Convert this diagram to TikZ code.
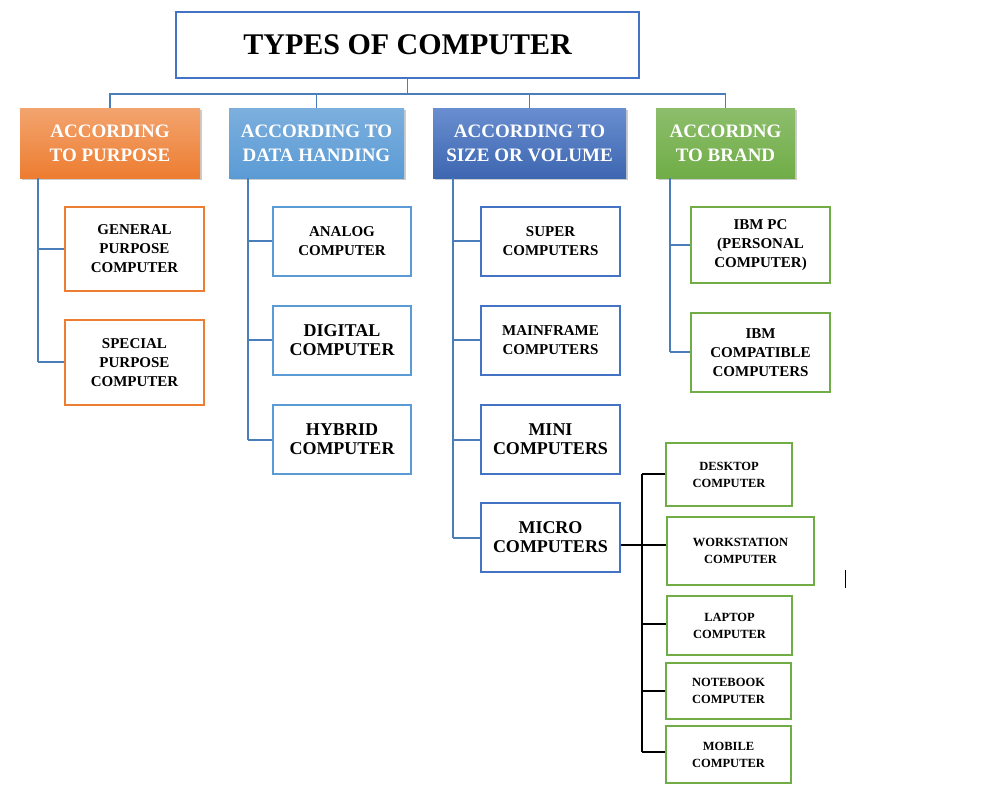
\documentclass[tikz,border=0pt]{standalone}
\usepackage{fontspec}
\setmainfont{Liberation Serif}
\usetikzlibrary{shadows}
\definecolor{cor}{HTML}{ED7D31}
\definecolor{clb}{HTML}{5B9BD5}
\definecolor{cbl}{HTML}{4472C4}
\definecolor{cgr}{HTML}{70AD47}
\definecolor{cln}{HTML}{4A7EBB}
\begin{document}
\begin{tikzpicture}[x=1pt,y=-1pt,
 hdr/.style={draw=none,text=white,font=\bfseries\fontsize{19}{24}\selectfont,align=center,inner sep=0pt,drop shadow={shadow xshift=2pt,shadow yshift=-2pt,opacity=0.4}},
 lf/.style={draw=#1,line width=1.5pt,fill=white,align=center,inner sep=0pt,font=\bfseries\fontsize{15}{19}\selectfont},
 sm/.style={draw=cgr,line width=1.5pt,fill=white,align=center,inner sep=0pt,font=\bfseries\fontsize{12.5}{17}\selectfont},
 ln/.style={draw=cln,line width=1.5pt},
 bk/.style={draw=black,line width=1.5pt}]
\useasboundingbox (0,0) rectangle (988,796);
\newcommand{\bx}[6]{\node[#1,minimum width=#4-#2,minimum height=#5-#3] (#6) at ({(#2+#4)/2},{(#3+#5)/2})}
\bx{lf=cbl}{176}{12}{639}{78}{t} {\fontsize{30}{34}\selectfont TYPES OF COMPUTER};
\bx{hdr,top color=cor!70,bottom color=cor}{20}{108}{200}{178}{h1} {ACCORDING\\TO PURPOSE};
\bx{hdr,top color=clb!80,bottom color=clb}{229}{108}{404}{178}{h2} {ACCORDING TO\\DATA HANDING};
\bx{hdr,top color=cbl!80,bottom color=cbl!90!black}{433}{108}{626}{178}{h3} {ACCORDING TO\\SIZE OR VOLUME};
\bx{hdr,top color=cgr!80,bottom color=cgr}{656}{108}{795}{178}{h4} {ACCORDNG\\TO BRAND};
\bx{lf=cor}{65}{207}{204}{291}{a1} {GENERAL\\PURPOSE\\COMPUTER};
\bx{lf=cor}{65}{320}{204}{405}{a2} {SPECIAL\\PURPOSE\\COMPUTER};
\bx{lf=clb}{273}{207}{411}{276}{b1} {ANALOG\\COMPUTER};
\bx{lf=clb}{273}{306}{411}{375}{b2} {\fontsize{18}{23}\selectfont DIGITAL\\\fontsize{18}{23}\selectfont COMPUTER};
\bx{lf=clb}{273}{405}{411}{474}{b3} {\fontsize{18}{23}\selectfont HYBRID\\\fontsize{18}{23}\selectfont COMPUTER};
\bx{lf=cbl}{481}{207}{620}{276}{c1} {SUPER\\COMPUTERS};
\bx{lf=cbl}{481}{306}{620}{375}{c2} {MAINFRAME\\COMPUTERS};
\bx{lf=cbl}{481}{405}{620}{474}{c3} {\fontsize{18}{23}\selectfont MINI\\\fontsize{18}{23}\selectfont COMPUTERS};
\bx{lf=cbl}{481}{503}{620}{572}{c4} {\fontsize{18}{23}\selectfont MICRO\\\fontsize{18}{23}\selectfont COMPUTERS};
\bx{lf=cgr}{691}{207}{830}{283}{d1} {IBM PC\\(PERSONAL\\COMPUTER)};
\bx{lf=cgr}{691}{313}{830}{392}{d2} {IBM\\COMPATIBLE\\COMPUTERS};
\bx{sm}{666}{443}{792}{506}{e1} {DESKTOP\\COMPUTER};
\bx{sm}{667}{517}{814}{585}{e2} {WORKSTATION\\COMPUTER};
\bx{sm}{667}{596}{792}{655}{e3} {LAPTOP\\COMPUTER};
\bx{sm}{666}{663}{791}{719}{e4} {NOTEBOOK\\COMPUTER};
\bx{sm}{666}{726}{791}{783}{e5} {MOBILE\\COMPUTER};
\coordinate (j0) at (407.5,94);
\coordinate (j1) at (110,94);
\coordinate (j2) at (316.5,94);
\coordinate (j3) at (529.5,94);
\coordinate (j4) at (725.5,94);
\draw[ln] (t.south) -- (j0);
\draw[ln] (h1.north) -- (j1) -- (j4) -- (h4.north);
\draw[ln] (h2.north) -- (j2);
\draw[ln] (h3.north) -- (j3);
\draw[ln] (38,178) -- (38,362);
\draw[ln] (38,249) -- (a1.west |- 0,249); \draw[ln] (38,362) -- (a2.west |- 0,362);
\draw[ln] (248,178) -- (248,440);
\draw[ln] (248,241) -- (b1.west |- 0,241); \draw[ln] (248,340) -- (b2.west |- 0,340); \draw[ln] (248,440) -- (b3.west |- 0,440);
\draw[ln] (453,178) -- (453,538);
\draw[ln] (453,241) -- (c1.west |- 0,241); \draw[ln] (453,340) -- (c2.west |- 0,340); \draw[ln] (453,440) -- (c3.west |- 0,440); \draw[ln] (453,538) -- (c4.west |- 0,538);
\draw[ln] (670,178) -- (670,352);
\draw[ln] (670,245) -- (d1.west |- 0,245); \draw[ln] (670,352) -- (d2.west |- 0,352);
\draw[bk] (c4.east |- 0,545) -- (e2.west |- 0,545);
\draw[bk] (642,474) -- (642,752);
\draw[bk] (642,474) -- (e1.west |- 0,474);
\draw[bk] (642,624) -- (e3.west |- 0,624); \draw[bk] (642,691) -- (e4.west |- 0,691); \draw[bk] (642,752) -- (e5.west |- 0,752);
\draw[black] (845,570) -- (845,588);
\end{tikzpicture}
\end{document}
